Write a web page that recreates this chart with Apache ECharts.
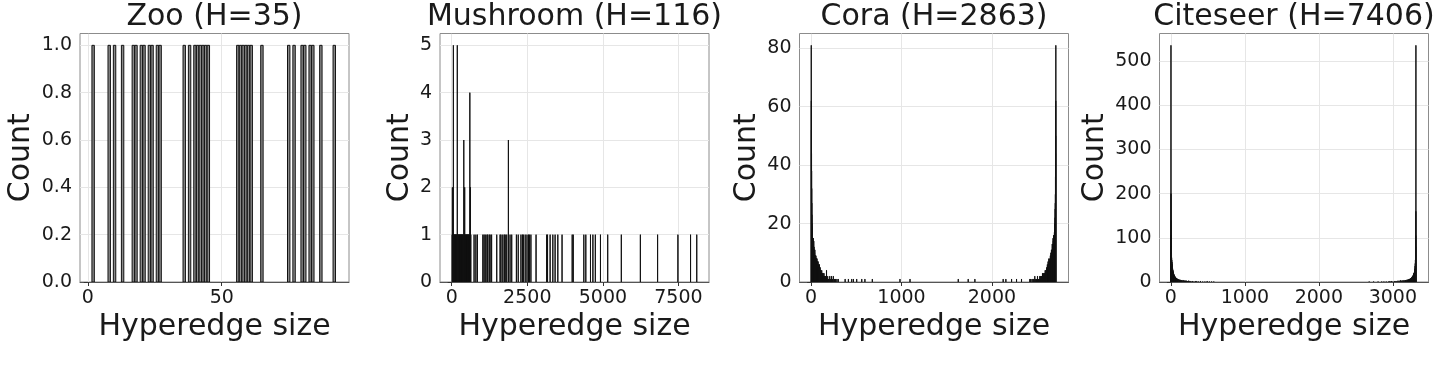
<!DOCTYPE html>
<html>
<head>
<meta charset="utf-8">
<script src="https://cdn.jsdelivr.net/npm/echarts@6/dist/echarts.min.js"></script>
<style>
html,body{margin:0;padding:0;background:#fff;}
#chart{width:1443px;height:376px;}
</style>
</head>
<body>
<div id="chart"></div>
<script>
// ---------------- DATA ----------------
const panelTitles = ['Zoo (H=35)', 'Mushroom (H=116)', 'Cora (H=2863)', 'Citeseer (H=7406)'];
const xAxisTitle = 'Hyperedge size';
const yAxisTitle = 'Count';

// Zoo
const zooSizes = [2,8,10,13,17,18,20,21,23,24,26,27,36,38,40,41,42,43,44,45,56,57,58,59,60,61,65,75,77,80,81,83,84,87,92];
const zooCounts = [1,1,1,1,1,1,1,1,1,1,1,1,1,1,1,1,1,1,1,1,1,1,1,1,1,1,1,1,1,1,1,1,1,1,1];
const zooXTicks = [0, 50];
const zooYTicks = [0, 0.2, 0.4, 0.6, 0.8, 1.0];

// Mushroom
const mushroomSizes = [17,22,30,42,55,70,84,96,110,120,132,145,158,170,185,200,215,228,240,252,265,278,290,302,315,328,340,352,365,378,400,412,430,445,458,470,482,495,508,520,532,545,558,570,582,600,620,632,
  740,800,850,1030,1070,1110,1165,1190,1240,1270,1320,1490,1600,1630,1690,1740,1770,1820,1875,1930,1985,2140,2200,2290,2340,2370,2430,2490,2540,2570,2620,2790,3140,3170,3255,3345,3420,3510,3650,3985,4020,4370,4436,4590,4670,4750,4920,5160,5610,6240,6810,7482,7900,8105];
const mushroomCounts = [1,2,1,1,5,1,1,1,1,1,1,1,1,1,5,1,1,1,1,1,1,1,1,1,1,1,1,1,1,1,3,1,2,1,1,1,1,1,1,1,1,1,1,1,1,4,2,1,
  1,1,1,1,1,1,1,1,1,1,1,1,1,1,1,1,1,1,3,1,1,1,1,1,1,1,1,1,1,1,1,1,1,1,1,1,1,1,1,1,1,1,1,1,1,1,1,1,1,1,1,1,1,1];
const mushroomXTicks = [0, 2500, 5000, 7500];
const mushroomYTicks = [0, 1, 2, 3, 4, 5];

// Cora
const coraSizes = [1,2,3,4,5,6,7,8,9,10,11,12,14,16,18,20,23,26,29,32,35,38,41,44,47,50,53,56,59,62,65,68,71,74,77,80,84,88,92,96,100,104,108,112,117,122,127,132,137,142,147,152,158,164,170,176,183,190,198,206,215,225,235,245,258,270,285,300,376,412,449,468,504,560,595,677,983,1094,
  1628,1738,1812,2125,2155,2218,2273,2328,2420,2430,2445,2457,2465,2475,2485,2495,2505,2515,2522,2530,2535,2540,2545,2550,2555,2560,2565,2570,2575,2580,2585,2590,2594,2598,2602,2606,2610,2614,2618,2622,2626,2630,2634,2638,2641,2644,2647,2650,2653,2656,2659,2662,2665,2668,2671,2674,2677,2680,2683,2686,2689,2692,2695,2697,2699,2700,2701,2702,2703,2704,2705,2706,2707,2708];
const coraCounts = [81,62,52,44,38,32,27,23,20,19,18,17,16,15,15,14,15,13,14,12,11,10,11,9,9,8,9,8,8,7,8,6,7,6,7,5,6,5,6,4,5,4,4,3,4,3,3,3,2,3,2,2,2,1,4,1,2,1,1,2,1,2,1,2,1,1,1,1,1,1,1,1,1,1,1,1,1,1,
  1,1,1,1,1,1,1,1,1,1,1,1,1,2,1,1,2,1,1,2,1,2,1,2,2,3,2,3,2,3,3,4,3,4,4,5,4,6,5,7,5,8,6,7,8,7,9,8,10,9,11,10,11,13,12,13,15,14,16,15,16,17,17,18,20,22,25,27,30,36,44,50,62,81];
const coraXTicks = [0, 1000, 2000];
const coraYTicks = [0, 20, 40, 60, 80];

// Citeseer
const citeseerSizes = [1,2,3,4,6,8,10,12,15,18,21,24,27,30,33,36,40,44,48,52,56,60,65,70,75,81,87,94,101,108,116,124,133,142,152,162,173,185,197,210,225,240,255,270,290,310,330,350,375,400,430,460,490,520,550,580,
  2680,2740,2800,2850,2880,2910,2940,2960,2980,3000,3020,3040,3055,3070,3085,3100,3112,3125,3138,3150,3162,3172,3182,3191,3199,3207,3214,3221,3227,3233,3239,3244,3249,3254,3259,3263,3267,3271,3275,3279,3283,3286,3289,3292,3295,3298,3301,3303,3305,3307,3309,3310,3311,3312];
const citeseerCounts = [536,200,140,105,80,65,55,50,45,40,35,30,27,24,22,20,18,16,15,13,12,11,10,9,8,8,7,6,6,5,5,5,4,4,4,3,4,3,3,3,2,3,2,2,2,1,2,2,1,2,1,1,2,1,1,1,
  1,1,1,1,1,1,1,2,2,1,2,2,2,3,2,4,3,3,4,3,4,4,4,5,5,5,6,6,7,7,8,8,9,10,11,12,13,14,15,17,19,20,21,23,26,30,36,42,50,62,80,105,160,536];
const citeseerXTicks = [0, 1000, 2000, 3000];
const citeseerYTicks = [0, 100, 200, 300, 400, 500];

// ---------------- STYLE / LAYOUT ----------------
const FONT = 'DejaVu Sans';
const TEXT = '#1a1a1a';
const GRID_COLOR = '#e6e6e6';
const BAR_FILL = '#8a8a8a';
const BAR_EDGE = '#111111';
const BAR_HALF = 0.45;

const panels = [
  {sizes: zooSizes, counts: zooCounts, xTicks: zooXTicks, yTicks: zooYTicks, xMin: -2.9, xMax: 97.5, yMax: 1.05, yFmt: v => v.toFixed(1), left: 80, nameGap: 43.5},
  {sizes: mushroomSizes, counts: mushroomCounts, xTicks: mushroomXTicks, yTicks: mushroomYTicks, xMin: -387, xMax: 8510, yMax: 5.25, yFmt: v => String(v), left: 440, nameGap: 25},
  {sizes: coraSizes, counts: coraCounts, xTicks: coraXTicks, yTicks: coraYTicks, xMin: -129, xMax: 2848, yMax: 85.05, yFmt: v => String(v), left: 799.5, nameGap: 37.5},
  {sizes: citeseerSizes, counts: citeseerCounts, xTicks: citeseerXTicks, yTicks: citeseerYTicks, xMin: -154, xMax: 3482, yMax: 562.8, yFmt: v => String(v), left: 1159.5, nameGap: 49.5}
];
const GRID_TOP = 33.5, GRID_W = 269, GRID_H = 248.5;

function renderBar(params, api) {
  const x = api.value(0), c = api.value(1);
  const p0 = api.coord([x - BAR_HALF, c]);
  const p1 = api.coord([x + BAR_HALF, 0]);
  return {
    type: 'rect',
    shape: {x: p0[0], y: p0[1], width: Math.max(p1[0] - p0[0], 0.01), height: p1[1] - p0[1]},
    style: {fill: BAR_FILL, stroke: BAR_EDGE, lineWidth: 1}
  };
}

const option = {
  animation: false,
  backgroundColor: '#fff',
  title: panels.map((p, i) => ({
    text: panelTitles[i],
    left: p.left + GRID_W / 2,
    textAlign: 'center',
    top: 2,
    padding: 0,
    textStyle: {fontFamily: FONT, fontSize: 30, fontWeight: 'normal', color: TEXT, lineHeight: 31}
  })),
  grid: panels.map(p => ({
    left: p.left, top: GRID_TOP, width: GRID_W, height: GRID_H,
    show: true, borderColor: '#8c8c8c', borderWidth: 1, backgroundColor: 'transparent'
  })),
  xAxis: panels.map((p, i) => ({
    type: 'value', gridIndex: i, min: p.xMin, max: p.xMax,
    name: xAxisTitle, nameLocation: 'middle', nameGap: 28.5,
    nameTextStyle: {fontFamily: FONT, fontSize: 30, color: TEXT, lineHeight: 30},
    axisLine: {show: true, onZero: false, lineStyle: {color: '#555', width: 1}},
    axisTick: {show: true, inside: false, length: 4, customValues: p.xTicks, lineStyle: {color: '#333'}},
    axisLabel: {show: true, margin: 6.5, customValues: p.xTicks, formatter: v => String(v), fontFamily: FONT, fontSize: 19, color: TEXT, lineHeight: 19},
    splitLine: {show: false}
  })),
  yAxis: panels.map((p, i) => ({
    type: 'value', gridIndex: i, min: 0, max: p.yMax,
    name: yAxisTitle, nameLocation: 'middle', nameGap: p.nameGap, nameRotate: 90,
    nameTextStyle: {fontFamily: FONT, fontSize: 30, color: TEXT, lineHeight: 30},
    axisLine: {show: true, lineStyle: {color: '#555', width: 1}},
    axisTick: {show: true, inside: false, length: 4, customValues: p.yTicks, lineStyle: {color: '#333'}},
    axisLabel: {show: true, margin: 8, customValues: p.yTicks, formatter: p.yFmt, fontFamily: FONT, fontSize: 19, color: TEXT},
    splitLine: {show: false}
  })),
  series: []
};

panels.forEach((p, i) => {
  // grid lines (library scales via markLine)
  option.series.push({
    type: 'line', xAxisIndex: i, yAxisIndex: i, data: [], z: 1, silent: true, symbol: 'none',
    markLine: {
      silent: true, symbol: ['none', 'none'], z: 1, label: {show: false}, animation: false,
      lineStyle: {color: GRID_COLOR, type: 'solid', width: 1},
      emphasis: {disabled: true},
      data: p.xTicks.map(v => ({xAxis: v})).concat(p.yTicks.filter(v => v > 0).map(v => ({yAxis: v})))
    }
  });
  option.series.push({
    type: 'custom', xAxisIndex: i, yAxisIndex: i, z: 3, clip: true, silent: true,
    renderItem: renderBar,
    encode: {x: 0, y: 1},
    data: p.sizes.map((s, k) => [s, p.counts[k]])
  });
});

const chart = echarts.init(document.getElementById('chart'), null, {renderer: 'canvas'});
chart.setOption(option);
</script>
</body>
</html>
